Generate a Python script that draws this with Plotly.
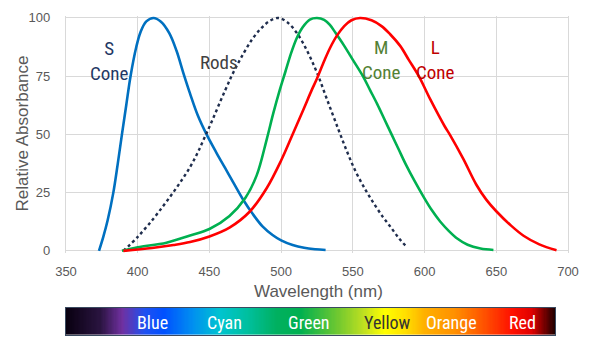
import numpy as np
import plotly.graph_objects as go

# ---------------- data ----------------
s_wl = [373, 376, 379, 383, 386, 389, 392, 395, 399, 402, 406, 411, 416, 422, 427, 432, 436.5, 442, 448, 455, 461, 467, 474, 480, 487, 494, 500, 508, 516, 524, 531]
s_val = [0, 6, 13, 25, 37, 50, 62.5, 75, 87.5, 94, 98.5, 100, 98.5, 93.5, 86, 76, 67.5, 58, 50, 42, 35.5, 29, 21.5, 16, 10.5, 6.8, 4.5, 2.5, 1.3, 0.7, 0.4]

rod_wl = [390, 400, 415, 436.5, 448, 461, 467, 474, 480, 486, 492, 498, 504, 511, 518, 525, 532, 540, 546, 552, 559, 565, 571, 576, 582, 587.5]
rod_val = [0, 6, 17, 36, 50.5, 69, 77, 85, 91, 95.5, 98.7, 100, 98.3, 93.5, 86, 76.5, 65, 52, 42.5, 34, 26, 20, 14.5, 10.5, 5.5, 1.7]

m_wl = [389, 400, 420, 436.5, 450, 464, 475, 483, 490, 494.5, 499, 503, 507, 511, 515, 520, 525, 530, 534, 538, 544, 550, 557, 562, 567, 572, 577, 582, 587, 593, 599, 605, 611, 617, 623, 630, 639, 648]
m_val = [0, 1.5, 3.5, 6.6, 9.4, 15, 22.7, 32.5, 48, 59, 69, 77, 85, 91.5, 96, 99.3, 100, 99.2, 97, 93.5, 88, 82, 75, 69, 63, 56.5, 50, 43.5, 37, 30, 23.5, 17.5, 12.5, 8.5, 5.2, 2.6, 1, 0.4]

l_wl = [390, 410, 425, 436.5, 450, 464, 478, 490, 500, 508.5, 515.4, 521.3, 525, 530, 534, 539, 544, 549, 555, 563, 570, 576, 583, 589, 596, 604, 614, 618, 627, 636, 643, 650, 660, 669, 680, 692]
l_val = [0, 1.2, 2.5, 3.8, 6.2, 10, 16.8, 27, 38.8, 50.7, 60.5, 69, 74, 81.5, 87, 92.5, 96.5, 99, 100, 99, 96.5, 93, 88, 82, 75, 65, 53.5, 49.5, 39.5, 28.5, 22, 17, 11, 6.5, 2.8, 0.3]

x_ticks = [350, 400, 450, 500, 550, 600, 650, 700]
y_ticks = [0, 25, 50, 75, 100]

# spectrum bar: colour stops (fraction, colour) and labels
spec_stops = [
    (0.0, "#080010"), (0.07, "#2a1440"), (0.115, "#7030a0"), (0.16, "#2050f0"),
    (0.2, "#0050ff"), (0.26, "#0090f0"), (0.315, "#00c4d0"), (0.37, "#00c0a0"),
    (0.43, "#00b060"), (0.48, "#00b050"), (0.556, "#70c830"), (0.61, "#c0e020"),
    (0.652, "#ffff00"), (0.693, "#ffe000"), (0.734, "#ffb000"), (0.795, "#ff9000"),
    (0.857, "#ff5000"), (0.912, "#ff1000"), (0.953, "#e00000"), (0.98, "#700000"),
    (1.0, "#200000"),
]
spec_labels = ["Blue", "Cyan", "Green", "Yellow", "Orange", "Red"]
spec_label_colors = ["white", "white", "white", "#333333", "white", "white"]

# ---------------- layout helpers ----------------
W, H = 594, 351
ML, MR, MT, MB = 66, 26, 13, 10
PW, PH = W - ML - MR, H - MT - MB


def px(xp):
    return (xp - ML) / PW


def py(yp):
    return (H - MB - yp) / PH


NARROW = "Liberation Sans Narrow, Arial Narrow, Roboto Condensed, Liberation Sans, Arial, sans-serif"
REG = "Liberation Sans, Arial, sans-serif"

fig = go.Figure()

line_spec = [
    ("S Cone", s_wl, s_val, "#0070c0", "solid"),
    ("Rods", rod_wl, rod_val, "#1f2d4d", "dot"),
    ("M Cone", m_wl, m_val, "#00b050", "solid"),
    ("L Cone", l_wl, l_val, "#ff0000", "solid"),
]
for name, xs, ys, col, dash in line_spec:
    fig.add_trace(go.Scatter(
        x=xs, y=ys, mode="lines", name=name,
        line=dict(color=col, width=2.6 if dash == "solid" else 2.4, dash=dash, shape="spline", smoothing=1.0),
        xaxis="x", yaxis="y", showlegend=False, hoverinfo="skip",
    ))

# spectrum bar heatmap
n = 400
grad = np.linspace(0, 1, n)
fig.add_trace(go.Heatmap(
    z=[grad], x=grad, y=[0],
    colorscale=[[p, c] for p, c in spec_stops], zmin=0, zmax=1,
    showscale=False, xaxis="x2", yaxis="y2", hoverinfo="skip",
))

grid_col = "#d9d9d9"
fig.update_layout(
    width=W, height=H,
    margin=dict(l=ML, r=MR, t=MT, b=MB),
    paper_bgcolor="white", plot_bgcolor="white",
    xaxis=dict(
        range=[350, 700], tickvals=x_ticks, ticktext=[str(v) for v in x_ticks],
        showgrid=True, gridcolor=grid_col, gridwidth=1.3, zeroline=False, showline=False,
        tickfont=dict(family=REG, size=13, color="#595959"), ticks="", ticklabelstandoff=9,
        anchor="y", domain=[0, 1],
    ),
    yaxis=dict(
        range=[-1, 101], tickvals=y_ticks, ticktext=[str(v) for v in y_ticks],
        showgrid=True, gridcolor=grid_col, gridwidth=1.3, zeroline=False,
        showline=True, mirror=True, linecolor=grid_col, linewidth=1.3,
        tickfont=dict(family=REG, size=13, color="#595959"), ticks="", ticklabelstandoff=12,
        anchor="x", domain=[py(256.38), py(13.62)],
    ),
    xaxis2=dict(
        range=[0, 1], domain=[0, px(555)], anchor="y2", showgrid=False, zeroline=False,
        showticklabels=False, showline=True, mirror=True, linecolor="#3a4a60", linewidth=1,
        fixedrange=True,
    ),
    yaxis2=dict(
        range=[-0.5, 0.5], domain=[py(340), py(312)], anchor="x2", showgrid=False, zeroline=False,
        showticklabels=False, showline=True, mirror=True, linecolor="#3a4a60", linewidth=1,
        fixedrange=True,
    ),
)

ann = []
# axis titles
ann.append(dict(text="Wavelength (nm)", x=px(318), y=py(296), xref="paper", yref="paper",
                xanchor="center", yanchor="middle",
                showarrow=False, font=dict(family=REG, size=17, color="#595959")))
ann.append(dict(text="Relative Absorbance", x=px(22), y=py(134), xref="paper", yref="paper",
                xanchor="center", yanchor="middle",
                showarrow=False, textangle=-90, font=dict(family=REG, size=17, color="#595959")))

# curve labels (two-line labels wrapped in one text)
curve_labels = [
    ("S<br>Cone", 109, 59.5, "#1f3864"),
    ("Rods", 219, 62, "#404040"),
    ("M<br>Cone", 381, 59, "#538135"),
    ("L<br>Cone", 435, 59, "#c00000"),
]
for t, xx, yy, c in curve_labels:
    ann.append(dict(text=t, x=px(xx), y=py(yy), xref="paper", yref="paper", showarrow=False,
                    xanchor="center", yanchor="middle", align="center",
                    font=dict(family=NARROW, size=19, color=c)))

# spectrum labels
spec_label_x = [152, 224, 309, 387, 451, 522]
for t, xx, c in zip(spec_labels, spec_label_x, spec_label_colors):
    ann.append(dict(text=t, x=px(xx), y=py(327.5), xref="paper", yref="paper", showarrow=False,
                    xanchor="center", yanchor="middle",
                    font=dict(family=NARROW, size=18, color=c)))

fig.update_layout(annotations=ann)
fig.write_html("out.html")
